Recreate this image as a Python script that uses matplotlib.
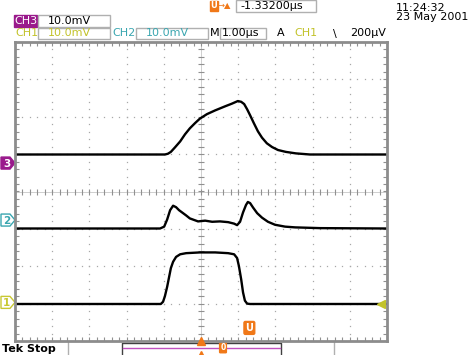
import numpy as np
import matplotlib
matplotlib.use("Agg")
import matplotlib.pyplot as plt
from matplotlib.patches import Polygon, Rectangle

# time in divisions (1.00 us/div), centre of screen = 0
ch3_t = [-5.0, -0.97, -0.89, -0.81, -0.70, -0.56, -0.43, -0.30, -0.16, -0.03, 0.16, 0.38,
         0.65, 0.83, 0.99, 1.08, 1.16, 1.24, 1.32, 1.42, 1.53, 1.64, 1.77, 1.91, 2.07,
         2.28, 2.55, 2.93, 5.0]
ch3_v = [0.99, 0.99, 1.01, 1.06, 1.18, 1.34, 1.53, 1.69, 1.83, 1.95, 2.07, 2.17,
         2.28, 2.35, 2.42, 2.40, 2.34, 2.20, 2.04, 1.83, 1.61, 1.44, 1.29, 1.19, 1.11,
         1.06, 1.02, 0.99, 0.99]

ch2_t = [-5.0, -1.10, -0.99, -0.91, -0.83, -0.75, -0.67, -0.59, -0.40, -0.30, -0.08, 0.11,
         0.30, 0.51, 0.73, 0.89, 0.97, 1.05, 1.13, 1.21, 1.26, 1.32, 1.40, 1.51, 1.64,
         1.80, 1.99, 2.26, 2.53, 3.2, 5.0]
ch2_v = [-0.99, -0.99, -0.94, -0.75, -0.50, -0.38, -0.42, -0.50, -0.64, -0.72, -0.80, -0.78,
         -0.81, -0.80, -0.82, -0.86, -0.90, -0.81, -0.56, -0.36, -0.28, -0.31, -0.43, -0.58,
         -0.70, -0.81, -0.89, -0.94, -0.96, -0.98, -0.99]

ch1_t = [-5.0, -1.08, -1.02, -0.97, -0.91, -0.86, -0.81, -0.75, -0.67, -0.56, -0.40, -0.03,
         0.38, 0.73, 0.89, 0.97, 1.02, 1.08, 1.13, 1.18, 1.24, 1.32, 5.0]
ch1_v = [-3.01, -3.01, -2.95, -2.80, -2.55, -2.30, -2.05, -1.88, -1.75, -1.68, -1.65, -1.63,
         -1.63, -1.65, -1.68, -1.78, -2.00, -2.35, -2.70, -2.92, -3.00, -3.01, -3.01]

# channel ground markers (divisions from centre)
markers = [("3", 0.75, "#9a1a8c", True), ("2", -0.78, "#3aa6b0", False), ("1", -2.99, "#c8c832", False)]

magenta = "#9a1a8c"
cyan = "#3aa6b0"
yellow = "#c2c22a"
orange = "#f07818"
grey = "#8c8c8c"

fig = plt.figure(figsize=(4.74, 3.55), dpi=100)
fig.patch.set_facecolor("white")

# overlay in pixel coords
ov = fig.add_axes([0, 0, 1, 1])
ov.set_xlim(0, 474)
ov.set_ylim(355, 0)
ov.axis("off")

ax = fig.add_axes([15 / 474, 14 / 355, 372 / 474, 299 / 355])
ax.set_xlim(-5, 5)
ax.set_ylim(-4, 4)
ax.set_xticks([])
ax.set_yticks([])
for s in ax.spines.values():
    s.set_color(grey)
    s.set_linewidth(2)

# graticule dots
fine = np.arange(-5, 5.001, 0.2)
fine_y = np.arange(-4, 4.001, 0.2)
for gx in range(-4, 5):
    if gx == 0:
        continue
    ax.plot(np.full_like(fine_y, gx), fine_y, ls="none", marker="s", ms=0.9, color="#a8a8a8", mew=0)
for gy in range(-3, 4):
    if gy == 0:
        continue
    ax.plot(fine, np.full_like(fine, gy), ls="none", marker="s", ms=0.9, color="#a8a8a8", mew=0)

# centre crosshair with ticks
ax.axhline(0, color="#c8c8c8", lw=0.6)
ax.axvline(0, color="#c8c8c8", lw=0.6)
ax.plot(fine, np.zeros_like(fine), ls="none", marker="|", ms=4, color="#909090", mew=0.8)
ax.plot(np.zeros_like(fine_y), fine_y, ls="none", marker="_", ms=4, color="#909090", mew=0.8)
# border ticks
ax.plot(fine, np.full_like(fine, 4), ls="none", marker="|", ms=6, color="#909090", mew=0.8)
ax.plot(fine, np.full_like(fine, -4), ls="none", marker="|", ms=6, color="#909090", mew=0.8)
ax.plot(np.full_like(fine_y, -5), fine_y, ls="none", marker="_", ms=6, color="#909090", mew=0.8)
ax.plot(np.full_like(fine_y, 5), fine_y, ls="none", marker="_", ms=6, color="#909090", mew=0.8)

# traces
for t, v in [(ch3_t, ch3_v), (ch2_t, ch2_v), (ch1_t, ch1_v)]:
    ax.plot(t, v, color="black", lw=1.7, solid_joinstyle="round")

# trigger level marker at right, trigger point markers
ax.plot([4.85], [-3.01], marker="<", ms=6, color=yellow, clip_on=False)
ax.plot([0], [-4], marker="^", ms=6, color=orange, clip_on=False, zorder=5)
ax.text(1.3, -3.65, "U", color="white", fontsize=7, fontweight="bold", ha="center", va="center",
        bbox=dict(boxstyle="round,pad=0.15", fc=orange, ec=orange))

# channel markers on the left
def px_y(v):
    return 191 - v * 37.25

for lab, v, col, filled in markers:
    y = px_y(v)
    poly = Polygon([(1, y - 6), (10, y - 6), (15, y), (10, y + 6), (1, y + 6)], closed=True,
                   fc=col if filled else "white", ec=col, lw=1)
    ov.add_patch(poly)
    ov.text(6.5, y + 0.5, lab, color="white" if filled else col, fontsize=7.5, fontweight="bold",
            ha="center", va="center")

fs = 8
# header row 1
ov.text(214, 6, "U", color="white", fontsize=6, fontweight="bold", ha="center", va="center",
        bbox=dict(boxstyle="square,pad=0.1", fc=orange, ec=orange))
ov.text(224, 6, "\u2192\u25b2", color=orange, fontsize=6, ha="center", va="center")
ov.add_patch(Rectangle((236, 0), 80, 12, fc="white", ec="#b0b0b0", lw=1))
ov.text(240, 6, "-1.33200\u00b5s", color="black", fontsize=fs, ha="left", va="center")
ov.text(396, 8, "11:24:32", color="black", fontsize=fs, ha="left", va="center")
ov.text(396, 17, "23 May 2001", color="black", fontsize=fs, ha="left", va="center")

# header row 2
ov.add_patch(Rectangle((14, 15), 23, 12, fc=magenta, ec=magenta))
ov.text(25.5, 21, "CH3", color="white", fontsize=fs, ha="center", va="center")
ov.add_patch(Rectangle((38, 15), 72, 12, fc="white", ec="#b0b0b0", lw=1))
ov.text(48, 21, "10.0mV", color="black", fontsize=fs, ha="left", va="center")

# header row 3
ry = 33.5
ov.text(15, ry, "CH1", color=yellow, fontsize=fs, ha="left", va="center")
ov.add_patch(Rectangle((38, 28), 72, 11, fc="white", ec="#b0b0b0", lw=1))
ov.text(48, ry, "10.0mV", color=yellow, fontsize=fs, ha="left", va="center")
ov.text(112, ry, "CH2", color=cyan, fontsize=fs, ha="left", va="center")
ov.add_patch(Rectangle((136, 28), 72, 11, fc="white", ec="#b0b0b0", lw=1))
ov.text(146, ry, "10.0mV", color=cyan, fontsize=fs, ha="left", va="center")
ov.text(210, ry, "M", color="black", fontsize=fs, ha="left", va="center")
ov.add_patch(Rectangle((220, 28), 46, 11, fc="white", ec="#b0b0b0", lw=1))
ov.text(222, ry, "1.00\u00b5s", color="black", fontsize=fs, ha="left", va="center")
ov.text(277, ry, "A", color="black", fontsize=fs, ha="left", va="center")
ov.text(294, ry, "CH1", color=yellow, fontsize=fs, ha="left", va="center")
ov.text(333, ry, "\\", color="black", fontsize=fs, ha="left", va="center")
ov.text(350, ry, "200\u00b5V", color="black", fontsize=fs, ha="left", va="center")

# footer
ov.text(2, 349, "Tek Stop", color="black", fontsize=fs, fontweight="bold", ha="left", va="center")
ov.plot([68, 68], [342, 355], color="#b0b0b0", lw=1)
ov.plot([334, 334], [342, 355], color="#b0b0b0", lw=1)
ov.plot([122, 122, 281, 281], [355, 343, 343, 355], color="#404040", lw=1)
ov.plot([123, 280], [348, 348], color="#c050c0", lw=1)
ov.text(223, 347.5, "0", color="white", fontsize=5.5, fontweight="bold", ha="center", va="center",
        bbox=dict(boxstyle="round,pad=0.1", fc=orange, ec=orange))
ov.plot([201], [354], marker="^", ms=5, color=orange, clip_on=False)

fig.savefig("out.png", dpi=100)
